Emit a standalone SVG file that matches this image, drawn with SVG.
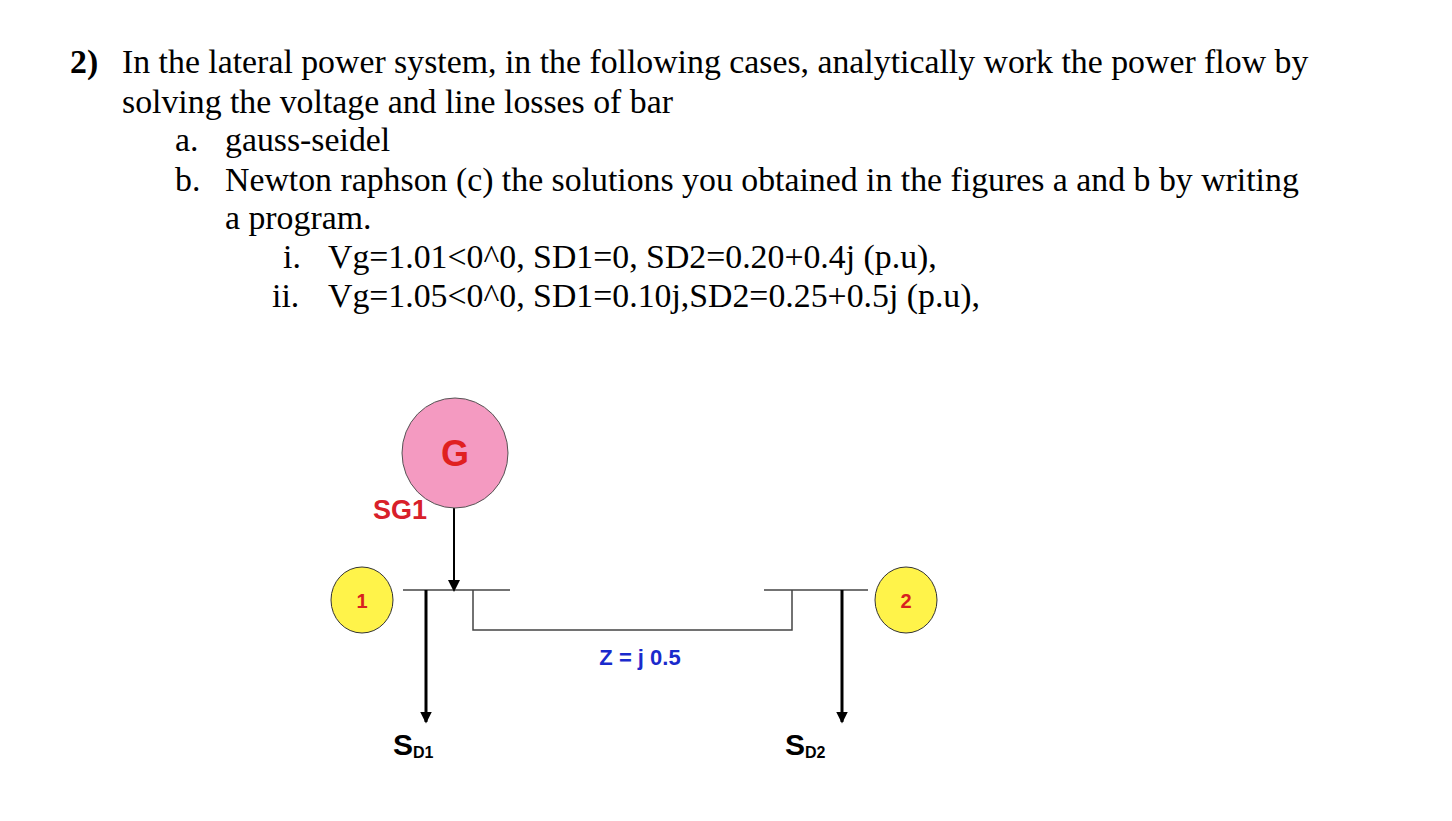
<svg xmlns="http://www.w3.org/2000/svg" width="1452" height="821" viewBox="0 0 1452 821">
<style>
.t{font-family:"Liberation Serif",serif;font-size:33.8px;fill:#000}
.d{font-family:"Liberation Sans",Arial,sans-serif;font-weight:bold}
.w{stroke:#000;stroke-width:2;fill:none}
.a{stroke:#000;stroke-width:3;fill:none}
.th{stroke:#444;stroke-width:1.5;fill:none}
</style>
<defs><marker id="ar" markerWidth="4" markerHeight="4" refX="3.5" refY="2" orient="auto" markerUnits="strokeWidth"><path d="M0,0L4,2L0,4z" fill="#000"/></marker>
<marker id="ar2" markerWidth="6" markerHeight="6" refX="5" refY="3" orient="auto" markerUnits="strokeWidth"><path d="M0,0L6,3L0,6z" fill="#000"/></marker></defs>
<rect width="1452" height="821" fill="#fff"/>
<g id="text">
<text class="t" x="70" y="73" font-weight="bold">2)</text>
<text class="t" x="122" y="73">In the lateral power system, in the following cases, analytically work the power flow by</text>
<text class="t" x="122" y="113">solving the voltage and line losses of bar</text>
<text class="t" x="175" y="151">a.</text><text class="t" x="225" y="151">gauss-seidel</text>
<text class="t" x="175" y="191">b.</text><text class="t" x="225" y="191">Newton raphson (c) the solutions you obtained in the figures a and b by writing</text>
<text class="t" x="225" y="229">a program.</text>
<text class="t" x="283" y="268">i.</text><text class="t" x="328" y="268">Vg=1.01&lt;0^0, SD1=0, SD2=0.20+0.4j (p.u),</text>
<text class="t" x="272" y="307">ii.</text><text class="t" x="328" y="307">Vg=1.05&lt;0^0, SD1=0.10j,SD2=0.25+0.5j (p.u),</text>
</g>
<g id="connectors">
<line class="th" x1="403" y1="590" x2="510" y2="590"/>
<line class="th" x1="764" y1="590" x2="868" y2="590"/>
<polyline class="th" points="473,590 473,630 792,630 792,590"/>
<line class="w" x1="454" y1="508" x2="454" y2="590" marker-end="url(#ar2)"/>
<line class="a" x1="426" y1="590" x2="426" y2="722" marker-end="url(#ar)"/>
<line class="a" x1="842" y1="590" x2="842" y2="722" marker-end="url(#ar)"/>
</g>
<g id="gen"><ellipse cx="455" cy="453" rx="53" ry="55" fill="#f49ac1" stroke="#555"/><text class="d" x="455" y="466" font-size="36" fill="#e02020" text-anchor="middle">G</text></g>
<g id="sg1"><text class="d" x="400" y="519" font-size="27" fill="#d8202a" text-anchor="middle">SG1</text></g>
<g id="bus1"><ellipse cx="362" cy="600" rx="31" ry="33" fill="#fff34a" stroke="#333"/><text class="d" x="362" y="608" font-size="20" fill="#d82020" text-anchor="middle">1</text></g>
<g id="bus2"><ellipse cx="906" cy="600" rx="31" ry="33" fill="#fff34a" stroke="#333"/><text class="d" x="906" y="608" font-size="20" fill="#d82020" text-anchor="middle">2</text></g>
<g id="z"><text class="d" x="640" y="665" font-size="22" fill="#1a2acc" text-anchor="middle">Z = j 0.5</text></g>
<g id="sd1"><text class="d" x="393" y="755" font-size="30">S<tspan font-size="16" dy="3">D1</tspan></text></g>
<g id="sd2"><text class="d" x="785" y="755" font-size="30">S<tspan font-size="16" dy="3">D2</tspan></text></g>
</svg>
